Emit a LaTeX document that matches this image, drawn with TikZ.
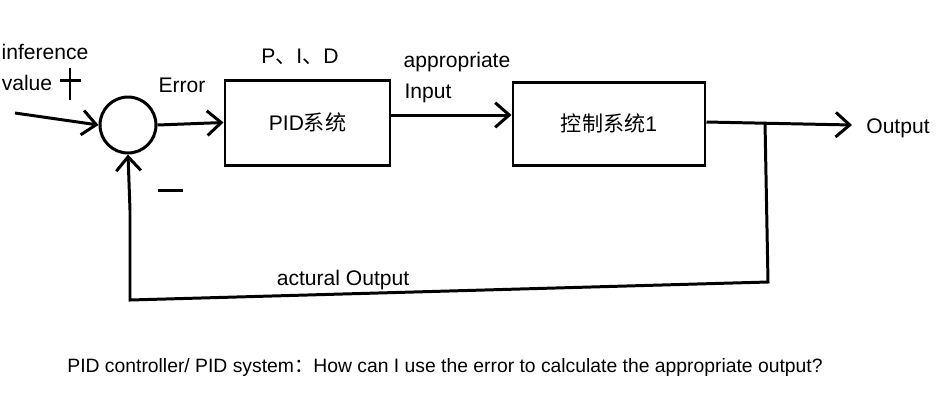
\documentclass[tikz,border=0pt]{standalone}
\usepackage{fontspec}
\setmainfont{Liberation Sans}
\newfontfamily\cjk{Noto Sans CJK SC}
\usetikzlibrary{arrows.meta}
\tikzset{
  blk/.style={draw,line width=1.7pt,inner sep=0pt},
  wire/.style={line width=1.7pt,-{Straight Barb[length=8pt,width=14pt]}},
  lbl/.style={font=\fontsize{12}{14}\selectfont,inner sep=0pt}
}
\begin{document}
\begin{tikzpicture}[x=0.02cm,y=-0.02cm]
  \useasboundingbox (0,0) rectangle (937,407);

  \node[draw,circle,line width=1.7pt,minimum size=56*0.02cm,inner sep=0pt] (sum) at (128,125) {};
  \node[blk,minimum width=165*0.02cm,minimum height=85*0.02cm,lbl] (pid) at (307.5,122.5) {PID{\cjk 系统}};
  \node[blk,minimum width=192*0.02cm,minimum height=83*0.02cm,lbl] (plant) at (609,123.5) {{\cjk 控制系统}1};

  \coordinate (in) at (15,113);
  \coordinate (tap) at (765,122);
  \coordinate (out) at (852,125);
  \coordinate (br) at (768,282);
  \coordinate (bl) at (130,300);

  \draw[wire] (in) -- (sum.west);
  \draw[wire] (sum.east) -- (pid.west);
  \draw[wire] (pid.east |- 0,115) -- (plant.west |- 0,115);
  \draw[wire] (plant.east |- tap) -- (out);
  \draw[line width=1.7pt] (tap) -- (br) -- (bl) -- (bl |- 0,210);
  \draw[wire] (bl |- 0,210) -- (sum.south);

  % labels
  \node[lbl] (tinf) at (45,52) {inference};
  \node[lbl] (tval) at (27,83) {value};
  \draw[line width=1.7pt] (60,80) -- (81,80) (70,68) -- (70,100);
  \draw[line width=1.7pt] (158,190) -- (183,190);
  \node[lbl] (terr) at (182,85) {Error};
  \node[lbl] (tpid) at (300,57) {P{\cjk 、}I{\cjk 、}D};
  \node[lbl] (tapp) at (457,62) {appropriate};
  \node[lbl] (tinp) at (428,93) {Input};
  \node[lbl] (tout) at (898,128) {Output};
  \node[lbl] (tact) at (343,280) {actural Output};
  \node[lbl,font=\fontsize{11}{13}\selectfont] (tcap) at (445,367) {PID controller/ PID system{\cjk ：}How can I use the error to calculate the appropriate output?};
\end{tikzpicture}
\end{document}
